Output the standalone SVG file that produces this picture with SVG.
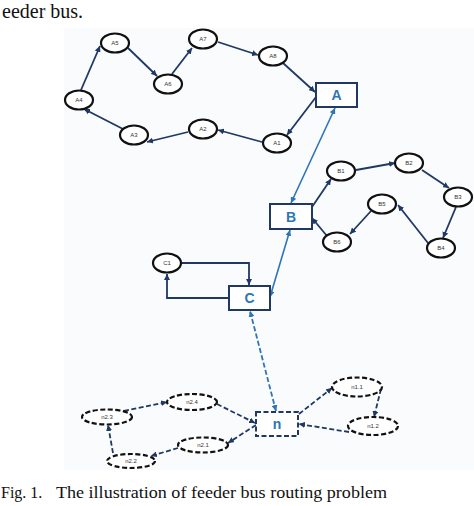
<svg xmlns="http://www.w3.org/2000/svg" width="474" height="506" viewBox="0 0 474 506">
<style>
.bg{fill:#ffffff}
.nd{fill:#ffffff;stroke:#111111;stroke-width:2.2}
.nd.d{stroke-dasharray:5,2.5}
.bx{fill:#ffffff;stroke:#1f3864;stroke-width:2}
.bx.d{stroke-dasharray:5,2.5}
.nt{font-family:"Liberation Sans",Arial,sans-serif;font-size:6px;fill:#333333;text-anchor:middle}
.bt{font-family:"Liberation Sans",Arial,sans-serif;font-size:14px;font-weight:bold;fill:#2e75b6;text-anchor:middle}
.cn{fill:none;stroke:#1f3864;stroke-width:1.8;marker-end:url(#ah)}
.cn.d{stroke-dasharray:5,2.5}
.bl{fill:none;stroke:#2e75b6;stroke-width:1.6;marker-end:url(#bh);marker-start:url(#bs)}
.bl.d{stroke-dasharray:5,2.5;stroke-width:1.8}
.cap{font-family:"Liberation Serif","Times New Roman",serif;fill:#111111}
</style>
<defs>
<marker id="ah" viewBox="0 0 10 10" refX="10" refY="5" markerWidth="6" markerHeight="6" markerUnits="userSpaceOnUse" orient="auto"><path d="M0,0 L10,5 L0,10 z" fill="#1f3864"/></marker>
<marker id="bh" viewBox="0 0 10 10" refX="10" refY="5" markerWidth="6" markerHeight="6" markerUnits="userSpaceOnUse" orient="auto"><path d="M0,0 L10,5 L0,10 z" fill="#2e75b6"/></marker>
<marker id="bs" viewBox="0 0 10 10" refX="10" refY="5" markerWidth="6" markerHeight="6" markerUnits="userSpaceOnUse" orient="auto-start-reverse"><path d="M0,0 L10,5 L0,10 z" fill="#2e75b6"/></marker>
</defs>
<rect class="bg" x="0" y="0" width="474" height="506"/>
<rect x="64" y="28" width="410" height="442" fill="#fafbfd"/>
<text class="cap" x="2" y="18" font-size="20">eeder bus.</text>
<text class="cap" x="1" y="498" font-size="16">Fig. 1.</text>
<text class="cap" x="56" y="498" font-size="16" textLength="331" lengthAdjust="spacingAndGlyphs">The illustration of feeder bus routing problem</text>

<g id="connectors">
<path class="cn" d="M316,97 L287,135"/>
<path class="cn" d="M262,142 L218,130"/>
<path class="cn" d="M188,132 L147,142"/>
<path class="cn" d="M123,129 L84,109"/>
<path class="cn" d="M81,90 L100,46"/>
<path class="cn" d="M128,48 L157,76"/>
<path class="cn" d="M172,74 L192,48"/>
<path class="cn" d="M218,42 L258,55"/>
<path class="cn" d="M283,63 L315,92"/>
<path class="cn" d="M312,207 L331,179"/>
<path class="cn" d="M356,170 L395,163"/>
<path class="cn" d="M422,170 L449,188"/>
<path class="cn" d="M456,207 L443,238"/>
<path class="cn" d="M428,243 L398,205"/>
<path class="cn" d="M371,211 L350,234"/>
<path class="cn" d="M327,236 L312,218"/>
<path class="cn" d="M181,263 L249,263 L249,285"/>
<path class="cn" d="M229,298 L167,298 L167,274"/>
<path class="bl" d="M335,108 L291,203"/>
<path class="bl" d="M290,230 L270,297"/>
<path class="bl d" d="M276,411 L250,311"/>
<path class="cn d" d="M299,414 L332,388"/>
<path class="cn d" d="M381,389 L374,417"/>
<path class="cn d" d="M349,432 L299,424"/>
<path class="cn d" d="M256,425 L228,443"/>
<path class="cn d" d="M178,448 L151,456"/>
<path class="cn d" d="M113,453 L108,425"/>
<path class="cn d" d="M124,411 L167,402"/>
<path class="cn d" d="M217,404 L255,423"/>
</g>

<g id="A5"><ellipse class="nd" cx="115" cy="43" rx="14" ry="9.5"/><text class="nt" x="115" y="45">A5</text></g>
<g id="A6"><ellipse class="nd" cx="168" cy="84" rx="14" ry="9.5"/><text class="nt" x="168" y="86">A6</text></g>
<g id="A7"><ellipse class="nd" cx="203" cy="39" rx="14" ry="9.5"/><text class="nt" x="203" y="41">A7</text></g>
<g id="A8"><ellipse class="nd" cx="273" cy="56" rx="14" ry="9.5"/><text class="nt" x="273" y="58">A8</text></g>
<g id="A4"><ellipse class="nd" cx="79" cy="100" rx="14" ry="9.5"/><text class="nt" x="79" y="102">A4</text></g>
<g id="A3"><ellipse class="nd" cx="134" cy="135" rx="14" ry="9.5"/><text class="nt" x="134" y="137">A3</text></g>
<g id="A2"><ellipse class="nd" cx="203" cy="129" rx="14" ry="9.5"/><text class="nt" x="203" y="131">A2</text></g>
<g id="A1"><ellipse class="nd" cx="277" cy="143" rx="14" ry="9.5"/><text class="nt" x="277" y="145">A1</text></g>
<g id="A"><rect class="bx" x="316" y="83" width="41" height="24"/><text class="bt" x="336.5" y="100">A</text></g>

<g id="B1"><ellipse class="nd" cx="341" cy="171" rx="14" ry="9.5"/><text class="nt" x="341" y="173">B1</text></g>
<g id="B2"><ellipse class="nd" cx="409" cy="163" rx="14" ry="9.5"/><text class="nt" x="409" y="165">B2</text></g>
<g id="B3"><ellipse class="nd" cx="458" cy="197" rx="14" ry="9.5"/><text class="nt" x="458" y="199">B3</text></g>
<g id="B4"><ellipse class="nd" cx="441" cy="248" rx="14" ry="9.5"/><text class="nt" x="441" y="250">B4</text></g>
<g id="B5"><ellipse class="nd" cx="382" cy="204" rx="14" ry="9.5"/><text class="nt" x="382" y="206">B5</text></g>
<g id="B6"><ellipse class="nd" cx="337" cy="242" rx="14" ry="9.5"/><text class="nt" x="337" y="244">B6</text></g>
<g id="B"><rect class="bx" x="270" y="204" width="42" height="25"/><text class="bt" x="291" y="222">B</text></g>

<g id="C1"><ellipse class="nd" cx="167" cy="263" rx="14" ry="9.5"/><text class="nt" x="167" y="265">C1</text></g>
<g id="C"><rect class="bx" x="229" y="286" width="41" height="24"/><text class="bt" x="249.5" y="303">C</text></g>

<g id="n"><rect class="bx d" x="256" y="412" width="42" height="24"/><text class="bt" x="277" y="429" font-weight="normal" font-size="13">n</text></g>
<g id="n1.1"><ellipse class="nd d" cx="357" cy="387" rx="25" ry="9.5"/><text class="nt" x="357" y="389">n1.1</text></g>
<g id="n1.2"><ellipse class="nd d" cx="373" cy="426" rx="25" ry="9"/><text class="nt" x="373" y="428">n1.2</text></g>
<g id="n2.4"><ellipse class="nd d" cx="192" cy="402" rx="25" ry="8"/><text class="nt" x="192" y="404">n2.4</text></g>
<g id="n2.3"><ellipse class="nd d" cx="107" cy="417" rx="25" ry="7.5"/><text class="nt" x="107" y="419">n2.3</text></g>
<g id="n2.1"><ellipse class="nd d" cx="203" cy="445" rx="25" ry="7.5"/><text class="nt" x="203" y="447">n2.1</text></g>
<g id="n2.2"><ellipse class="nd d" cx="131" cy="461" rx="24" ry="7"/><text class="nt" x="131" y="463">n2.2</text></g>
</svg>
